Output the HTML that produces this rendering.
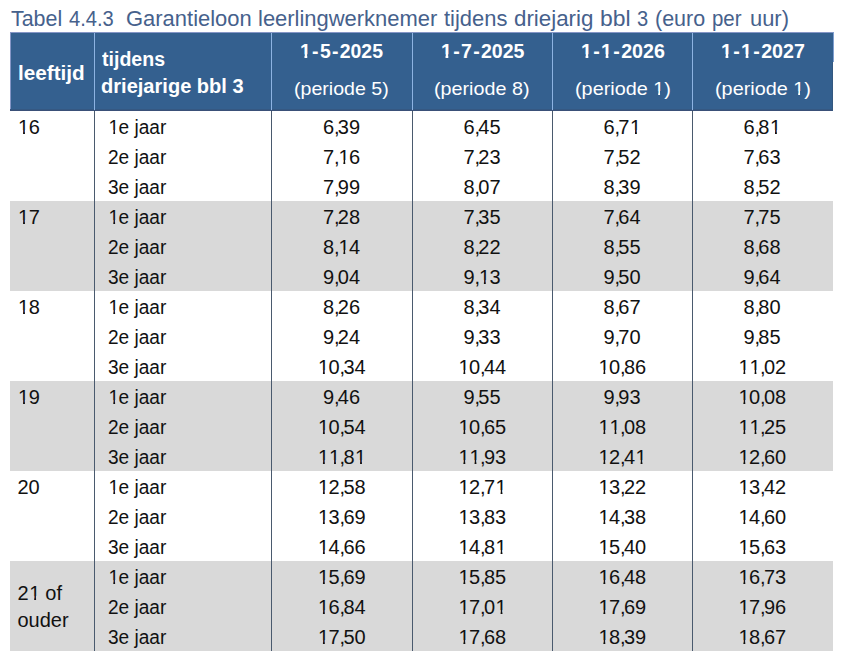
<!DOCTYPE html>
<html><head><meta charset="utf-8"><title>Tabel 4.4.3</title>
<style>
html,body{margin:0;padding:0;background:#fff;}
body{width:843px;height:667px;position:relative;overflow:hidden;font-family:"Liberation Sans",sans-serif;color:#111;}
.a{position:absolute;white-space:nowrap;transform-origin:0 0;}
.hd{left:10px;top:32px;width:823px;height:79px;background:#34608f;}
.g{left:10px;width:823px;height:90px;background:#d9d9d9;}
.vl{width:1px;background:#8db3e2;top:33px;height:77px;}
.vb{width:1px;background:#4a5a6e;top:111px;height:540px;}
.h{color:#fff;}
.b{font-size:20px;line-height:20px;}
.c{text-align:center;}
.cm{letter-spacing:-1.8px;}
.oa{display:inline-block;clip-path:polygon(-5px -10px,16.12px -10px,16.12px 13.00px,6.85px 13.00px,6.85px 30.00px,4.98px 30.00px,4.98px 13.00px,-5px 13.00px)}.oa{position:relative;left:0.6px}.ob{display:inline-block;clip-path:polygon(-5px -10px,15.84px -10px,15.84px 12.00px,7.28px 12.00px,7.28px 29.50px,4.50px 29.50px,4.50px 12.00px,-5px 12.00px)}.oc{display:inline-block;clip-path:polygon(-5px -10px,15.57px -10px,15.57px 12.00px,6.51px 12.00px,6.51px 29.00px,4.73px 29.00px,4.73px 12.00px,-5px 12.00px)}
</style></head><body>

<div class="a hd"></div>
<div class="a" style="left:10px;top:32px;width:823px;height:1px;background:#8596c6"></div>
<div class="a" style="left:10px;top:32px;width:1px;height:79px;background:#8596c6"></div>
<div class="a" style="left:10px;top:109px;width:823px;height:1px;background:#355882"></div>
<div class="a" style="left:10px;top:110px;width:823px;height:1px;background:#3a5078"></div>
<div class="a" style="left:832px;top:62px;width:1px;height:49px;background:#33577f"></div>
<div class="a" style="left:833px;top:32px;width:1px;height:30px;background:#7f9fd0"></div>
<div class="a g" style="top:201px"></div>
<div class="a g" style="top:381px"></div>
<div class="a g" style="top:561px"></div>
<div class="a vl" style="left:94px"></div>
<div class="a vb" style="left:94px"></div>
<div class="a vl" style="left:271px"></div>
<div class="a vb" style="left:271px"></div>
<div class="a vl" style="left:412px"></div>
<div class="a vb" style="left:412px"></div>
<div class="a vl" style="left:552px"></div>
<div class="a vb" style="left:552px"></div>
<div class="a vl" style="left:692px"></div>
<div class="a vb" style="left:692px"></div>
<div class="a " style="left:10.50px;top:7.0px;font-size:22.8px;line-height:22.8px;font-weight:normal;color:#46618c;transform:scaleX(0.9396)">Tabel</div>
<div class="a " style="left:68.60px;top:7.0px;font-size:22.8px;line-height:22.8px;font-weight:normal;color:#46618c;transform:scaleX(0.8840)">4.4.3</div>
<div class="a " style="left:125.74px;top:7.0px;font-size:22.8px;line-height:22.8px;font-weight:normal;color:#46618c;transform:scaleX(0.9633)">Garantieloon</div>
<div class="a " style="left:257.74px;top:7.0px;font-size:22.8px;line-height:22.8px;font-weight:normal;color:#46618c;transform:scaleX(0.9627)">leerlingwerknemer</div>
<div class="a " style="left:444.20px;top:7.0px;font-size:22.8px;line-height:22.8px;font-weight:normal;color:#46618c;transform:scaleX(0.9615)">tijdens</div>
<div class="a " style="left:513.52px;top:7.0px;font-size:22.8px;line-height:22.8px;font-weight:normal;color:#46618c;transform:scaleX(0.9797)">driejarig</div>
<div class="a " style="left:599.90px;top:7.0px;font-size:22.8px;line-height:22.8px;font-weight:normal;color:#46618c;transform:scaleX(1.0036)">bbl</div>
<div class="a " style="left:636.62px;top:7.0px;font-size:22.8px;line-height:22.8px;font-weight:normal;color:#46618c;transform:scaleX(0.8818)">3</div>
<div class="a " style="left:655.46px;top:7.0px;font-size:22.8px;line-height:22.8px;font-weight:normal;color:#46618c;transform:scaleX(0.9431)">(euro</div>
<div class="a " style="left:711.90px;top:7.0px;font-size:22.8px;line-height:22.8px;font-weight:normal;color:#46618c;transform:scaleX(0.8969)">per</div>
<div class="a " style="left:749.74px;top:7.0px;font-size:22.8px;line-height:22.8px;font-weight:normal;color:#46618c;transform:scaleX(0.9605)">uur)</div>
<div class="a h" style="left:17.54px;top:64.49px;font-size:19.5px;line-height:19.5px;font-weight:bold;transform:scaleX(1.0623)">leeftijd</div>
<div class="a h" style="left:102.20px;top:50.49px;font-size:19.5px;line-height:19.5px;font-weight:bold;transform:scaleX(1.0032)">tijdens</div>
<div class="a h" style="left:101.07px;top:76.99px;font-size:19.5px;line-height:19.5px;font-weight:bold;transform:scaleX(1.0285)">driejarige bbl 3</div>
<div class="a h" style="left:300.20px;top:42.19px;font-size:19.5px;line-height:19.5px;font-weight:bold;transform:scaleX(0.9963)"><span class="ob">1</span><span style="margin:0 1.3px">-</span>5<span style="margin:0 1.3px">-</span>2025</div>
<div class="a h" style="left:440.50px;top:42.19px;font-size:19.5px;line-height:19.5px;font-weight:bold;transform:scaleX(1.0024)"><span class="ob">1</span><span style="margin:0 1.3px">-</span>7<span style="margin:0 1.3px">-</span>2025</div>
<div class="a h" style="left:580.99px;top:42.19px;font-size:19.5px;line-height:19.5px;font-weight:bold;transform:scaleX(1.0073)"><span class="ob">1</span><span style="margin:0 1.3px">-</span><span class="ob">1</span><span style="margin:0 1.3px">-</span>2026</div>
<div class="a h" style="left:720.99px;top:42.19px;font-size:19.5px;line-height:19.5px;font-weight:bold;transform:scaleX(1.0073)"><span class="ob">1</span><span style="margin:0 1.3px">-</span><span class="ob">1</span><span style="margin:0 1.3px">-</span>2027</div>
<div class="a h" style="left:293.97px;top:78.91px;font-size:19px;line-height:19px;font-weight:normal;transform:scaleX(1.0311)">(periode 5)</div>
<div class="a h" style="left:433.96px;top:78.91px;font-size:19px;line-height:19px;font-weight:normal;transform:scaleX(1.0389)">(periode 8)</div>
<div class="a h" style="left:574.86px;top:78.91px;font-size:19px;line-height:19px;font-weight:normal;transform:scaleX(1.0433)">(periode <span class="oc">1</span>)</div>
<div class="a h" style="left:714.86px;top:78.91px;font-size:19px;line-height:19px;font-weight:normal;transform:scaleX(1.0433)">(periode <span class="oc">1</span>)</div>
<div class="a b" style="left:17.5px;top:117.07px"><span class="oa">1</span>6</div>
<div class="a b" style="left:107.8px;top:117.07px;transform:scaleX(0.953)"><span class="oa">1</span>e jaar</div>
<div class="a b c" style="left:271px;width:141px;top:117.07px">6<span class="cm">,</span>39</div>
<div class="a b c" style="left:412px;width:140px;top:117.07px">6<span class="cm">,</span>45</div>
<div class="a b c" style="left:552px;width:140px;top:117.07px">6<span class="cm">,</span>7<span class="oa">1</span></div>
<div class="a b c" style="left:692px;width:140px;top:117.07px">6<span class="cm">,</span>8<span class="oa">1</span></div>
<div class="a b" style="left:107.8px;top:147.07px;transform:scaleX(0.953)">2e jaar</div>
<div class="a b c" style="left:271px;width:141px;top:147.07px">7<span class="cm">,</span><span class="oa">1</span>6</div>
<div class="a b c" style="left:412px;width:140px;top:147.07px">7<span class="cm">,</span>23</div>
<div class="a b c" style="left:552px;width:140px;top:147.07px">7<span class="cm">,</span>52</div>
<div class="a b c" style="left:692px;width:140px;top:147.07px">7<span class="cm">,</span>63</div>
<div class="a b" style="left:107.8px;top:177.07px;transform:scaleX(0.953)">3e jaar</div>
<div class="a b c" style="left:271px;width:141px;top:177.07px">7<span class="cm">,</span>99</div>
<div class="a b c" style="left:412px;width:140px;top:177.07px">8<span class="cm">,</span>07</div>
<div class="a b c" style="left:552px;width:140px;top:177.07px">8<span class="cm">,</span>39</div>
<div class="a b c" style="left:692px;width:140px;top:177.07px">8<span class="cm">,</span>52</div>
<div class="a b" style="left:17.5px;top:207.07px"><span class="oa">1</span>7</div>
<div class="a b" style="left:107.8px;top:207.07px;transform:scaleX(0.953)"><span class="oa">1</span>e jaar</div>
<div class="a b c" style="left:271px;width:141px;top:207.07px">7<span class="cm">,</span>28</div>
<div class="a b c" style="left:412px;width:140px;top:207.07px">7<span class="cm">,</span>35</div>
<div class="a b c" style="left:552px;width:140px;top:207.07px">7<span class="cm">,</span>64</div>
<div class="a b c" style="left:692px;width:140px;top:207.07px">7<span class="cm">,</span>75</div>
<div class="a b" style="left:107.8px;top:237.07px;transform:scaleX(0.953)">2e jaar</div>
<div class="a b c" style="left:271px;width:141px;top:237.07px">8<span class="cm">,</span><span class="oa">1</span>4</div>
<div class="a b c" style="left:412px;width:140px;top:237.07px">8<span class="cm">,</span>22</div>
<div class="a b c" style="left:552px;width:140px;top:237.07px">8<span class="cm">,</span>55</div>
<div class="a b c" style="left:692px;width:140px;top:237.07px">8<span class="cm">,</span>68</div>
<div class="a b" style="left:107.8px;top:267.07px;transform:scaleX(0.953)">3e jaar</div>
<div class="a b c" style="left:271px;width:141px;top:267.07px">9<span class="cm">,</span>04</div>
<div class="a b c" style="left:412px;width:140px;top:267.07px">9<span class="cm">,</span><span class="oa">1</span>3</div>
<div class="a b c" style="left:552px;width:140px;top:267.07px">9<span class="cm">,</span>50</div>
<div class="a b c" style="left:692px;width:140px;top:267.07px">9<span class="cm">,</span>64</div>
<div class="a b" style="left:17.5px;top:297.07px"><span class="oa">1</span>8</div>
<div class="a b" style="left:107.8px;top:297.07px;transform:scaleX(0.953)"><span class="oa">1</span>e jaar</div>
<div class="a b c" style="left:271px;width:141px;top:297.07px">8<span class="cm">,</span>26</div>
<div class="a b c" style="left:412px;width:140px;top:297.07px">8<span class="cm">,</span>34</div>
<div class="a b c" style="left:552px;width:140px;top:297.07px">8<span class="cm">,</span>67</div>
<div class="a b c" style="left:692px;width:140px;top:297.07px">8<span class="cm">,</span>80</div>
<div class="a b" style="left:107.8px;top:327.07px;transform:scaleX(0.953)">2e jaar</div>
<div class="a b c" style="left:271px;width:141px;top:327.07px">9<span class="cm">,</span>24</div>
<div class="a b c" style="left:412px;width:140px;top:327.07px">9<span class="cm">,</span>33</div>
<div class="a b c" style="left:552px;width:140px;top:327.07px">9<span class="cm">,</span>70</div>
<div class="a b c" style="left:692px;width:140px;top:327.07px">9<span class="cm">,</span>85</div>
<div class="a b" style="left:107.8px;top:357.07px;transform:scaleX(0.953)">3e jaar</div>
<div class="a b c" style="left:271px;width:141px;top:357.07px"><span class="oa">1</span>0<span class="cm">,</span>34</div>
<div class="a b c" style="left:412px;width:140px;top:357.07px"><span class="oa">1</span>0<span class="cm">,</span>44</div>
<div class="a b c" style="left:552px;width:140px;top:357.07px"><span class="oa">1</span>0<span class="cm">,</span>86</div>
<div class="a b c" style="left:692px;width:140px;top:357.07px"><span class="oa">1</span><span class="oa">1</span><span class="cm">,</span>02</div>
<div class="a b" style="left:17.5px;top:387.07px"><span class="oa">1</span>9</div>
<div class="a b" style="left:107.8px;top:387.07px;transform:scaleX(0.953)"><span class="oa">1</span>e jaar</div>
<div class="a b c" style="left:271px;width:141px;top:387.07px">9<span class="cm">,</span>46</div>
<div class="a b c" style="left:412px;width:140px;top:387.07px">9<span class="cm">,</span>55</div>
<div class="a b c" style="left:552px;width:140px;top:387.07px">9<span class="cm">,</span>93</div>
<div class="a b c" style="left:692px;width:140px;top:387.07px"><span class="oa">1</span>0<span class="cm">,</span>08</div>
<div class="a b" style="left:107.8px;top:417.07px;transform:scaleX(0.953)">2e jaar</div>
<div class="a b c" style="left:271px;width:141px;top:417.07px"><span class="oa">1</span>0<span class="cm">,</span>54</div>
<div class="a b c" style="left:412px;width:140px;top:417.07px"><span class="oa">1</span>0<span class="cm">,</span>65</div>
<div class="a b c" style="left:552px;width:140px;top:417.07px"><span class="oa">1</span><span class="oa">1</span><span class="cm">,</span>08</div>
<div class="a b c" style="left:692px;width:140px;top:417.07px"><span class="oa">1</span><span class="oa">1</span><span class="cm">,</span>25</div>
<div class="a b" style="left:107.8px;top:447.07px;transform:scaleX(0.953)">3e jaar</div>
<div class="a b c" style="left:271px;width:141px;top:447.07px"><span class="oa">1</span><span class="oa">1</span><span class="cm">,</span>8<span class="oa">1</span></div>
<div class="a b c" style="left:412px;width:140px;top:447.07px"><span class="oa">1</span><span class="oa">1</span><span class="cm">,</span>93</div>
<div class="a b c" style="left:552px;width:140px;top:447.07px"><span class="oa">1</span>2<span class="cm">,</span>4<span class="oa">1</span></div>
<div class="a b c" style="left:692px;width:140px;top:447.07px"><span class="oa">1</span>2<span class="cm">,</span>60</div>
<div class="a b" style="left:17.5px;top:477.07px">20</div>
<div class="a b" style="left:107.8px;top:477.07px;transform:scaleX(0.953)"><span class="oa">1</span>e jaar</div>
<div class="a b c" style="left:271px;width:141px;top:477.07px"><span class="oa">1</span>2<span class="cm">,</span>58</div>
<div class="a b c" style="left:412px;width:140px;top:477.07px"><span class="oa">1</span>2<span class="cm">,</span>7<span class="oa">1</span></div>
<div class="a b c" style="left:552px;width:140px;top:477.07px"><span class="oa">1</span>3<span class="cm">,</span>22</div>
<div class="a b c" style="left:692px;width:140px;top:477.07px"><span class="oa">1</span>3<span class="cm">,</span>42</div>
<div class="a b" style="left:107.8px;top:507.07px;transform:scaleX(0.953)">2e jaar</div>
<div class="a b c" style="left:271px;width:141px;top:507.07px"><span class="oa">1</span>3<span class="cm">,</span>69</div>
<div class="a b c" style="left:412px;width:140px;top:507.07px"><span class="oa">1</span>3<span class="cm">,</span>83</div>
<div class="a b c" style="left:552px;width:140px;top:507.07px"><span class="oa">1</span>4<span class="cm">,</span>38</div>
<div class="a b c" style="left:692px;width:140px;top:507.07px"><span class="oa">1</span>4<span class="cm">,</span>60</div>
<div class="a b" style="left:107.8px;top:537.07px;transform:scaleX(0.953)">3e jaar</div>
<div class="a b c" style="left:271px;width:141px;top:537.07px"><span class="oa">1</span>4<span class="cm">,</span>66</div>
<div class="a b c" style="left:412px;width:140px;top:537.07px"><span class="oa">1</span>4<span class="cm">,</span>8<span class="oa">1</span></div>
<div class="a b c" style="left:552px;width:140px;top:537.07px"><span class="oa">1</span>5<span class="cm">,</span>40</div>
<div class="a b c" style="left:692px;width:140px;top:537.07px"><span class="oa">1</span>5<span class="cm">,</span>63</div>
<div class="a b" style="left:17.5px;top:583.07px">2<span class="oa">1</span> of</div>
<div class="a b" style="left:17.5px;top:610.07px">ouder</div>
<div class="a b" style="left:107.8px;top:567.07px;transform:scaleX(0.953)"><span class="oa">1</span>e jaar</div>
<div class="a b c" style="left:271px;width:141px;top:567.07px"><span class="oa">1</span>5<span class="cm">,</span>69</div>
<div class="a b c" style="left:412px;width:140px;top:567.07px"><span class="oa">1</span>5<span class="cm">,</span>85</div>
<div class="a b c" style="left:552px;width:140px;top:567.07px"><span class="oa">1</span>6<span class="cm">,</span>48</div>
<div class="a b c" style="left:692px;width:140px;top:567.07px"><span class="oa">1</span>6<span class="cm">,</span>73</div>
<div class="a b" style="left:107.8px;top:597.07px;transform:scaleX(0.953)">2e jaar</div>
<div class="a b c" style="left:271px;width:141px;top:597.07px"><span class="oa">1</span>6<span class="cm">,</span>84</div>
<div class="a b c" style="left:412px;width:140px;top:597.07px"><span class="oa">1</span>7<span class="cm">,</span>0<span class="oa">1</span></div>
<div class="a b c" style="left:552px;width:140px;top:597.07px"><span class="oa">1</span>7<span class="cm">,</span>69</div>
<div class="a b c" style="left:692px;width:140px;top:597.07px"><span class="oa">1</span>7<span class="cm">,</span>96</div>
<div class="a b" style="left:107.8px;top:627.07px;transform:scaleX(0.953)">3e jaar</div>
<div class="a b c" style="left:271px;width:141px;top:627.07px"><span class="oa">1</span>7<span class="cm">,</span>50</div>
<div class="a b c" style="left:412px;width:140px;top:627.07px"><span class="oa">1</span>7<span class="cm">,</span>68</div>
<div class="a b c" style="left:552px;width:140px;top:627.07px"><span class="oa">1</span>8<span class="cm">,</span>39</div>
<div class="a b c" style="left:692px;width:140px;top:627.07px"><span class="oa">1</span>8<span class="cm">,</span>67</div>
</body></html>
